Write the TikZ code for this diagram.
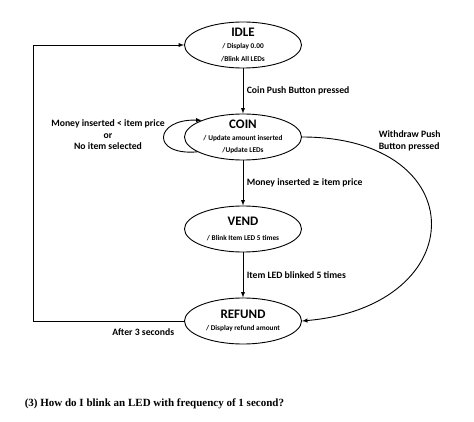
\documentclass[tikz,border=0pt]{standalone}
\usepackage{fontspec}
\setmainfont{Carlito}
\newfontfamily\qfont{Liberation Serif}
\usepackage{tikz}
\tikzset{node distance=92pt, auto, >=latex}
\usetikzlibrary{shapes.geometric}
\tikzset{state/.style={ellipse, draw, line width=0.9pt, minimum width=117pt, minimum height=46pt, inner xsep=-12pt, inner ysep=-4pt, align=center, font=\bfseries}}
\tikzset{lab/.style={font=\bfseries\fontsize{9.7}{11.5}\selectfont, align=left}}
\newcommand{\stname}[1]{{\fontsize{13}{13}\selectfont #1}}
\newcommand{\stact}{\fontsize{7.3}{13}\selectfont}

\begin{document}
\begin{tikzpicture}[x=1pt, y=-1pt, line width=0.9pt]
   \useasboundingbox (0,0) rectangle (474,422);
   \node[state](1) at (243,45) {\stname{IDLE}\\ \stact / Display 0.00\\[1pt] \stact /Blink All LEDs};
   \node[state](2) [below of=1] {\stname{COIN}\\ \stact / Update amount inserted\\ \stact /Update LEDs};
   \node[state](3) [below of=2] {\stname{VEND}\\[3pt] \stact / Blink Item LED 5 times};
   \node[state](4) [below of=3] {\stname{REFUND}\\ \stact / Display refund amount};
   \draw[->] (1) to node[lab] {Coin Push Button pressed} (2);
   \draw[->] (2) to node[lab] {Money inserted {\fontspec{DejaVu Sans}\fontsize{8.5}{11}\selectfont ≥} item price} (3);
   \draw[->] (3) to node[lab] {Item LED blinked 5 times} (4);
   \draw[->] (2.198) to[out=185, in=178, looseness=3.8] (2.158);
   \draw[->] (2.east) to[out=0, in=5, looseness=2.4] (4.east);
   \draw[->] (4.west) -- ++(-151,0) node[lab, pos=0.27, below=4pt] {After 3 seconds} |- (1.west);
   \node[lab, align=center](5) at (108,135) {Money inserted {<} item price\\ or\\ No item selected};
   \node[lab, anchor=west](6) at (375,141) {Withdraw Push\\ Button pressed};
   \node[anchor=west, font=\qfont\bfseries\fontsize{11}{13}\selectfont](7) at (21,404) {(3) How do I blink an LED with frequency of 1 second?};
\end{tikzpicture}
\end{document}
